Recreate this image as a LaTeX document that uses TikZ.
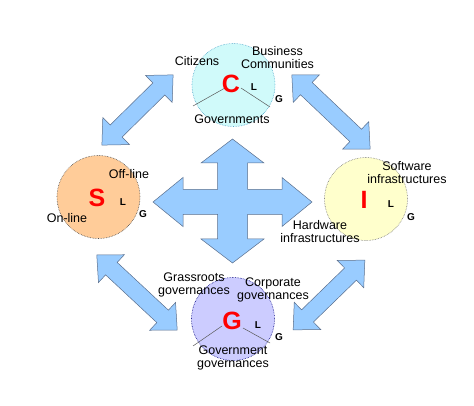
\documentclass[tikz,border=0pt]{standalone}
\usepackage{fontspec}
\setmainfont{Liberation Sans}
\usepackage{tikz}
\definecolor{ccyan}{RGB}{208, 250, 250}
\definecolor{cpeach}{RGB}{255, 204, 153}
\definecolor{cyellow}{RGB}{255, 255, 204}
\definecolor{clav}{RGB}{204, 204, 255}
\definecolor{carrow}{RGB}{153, 204, 255}
\definecolor{cedge}{RGB}{90, 110, 140}
\usetikzlibrary{positioning}
\usetikzlibrary{calc}

% double block arrow: centre x, centre y, angle, half length
\newcommand{\dblarrow}[4]{%
\begin{scope}[shift={(#1pt, -#2pt)}, rotate=#3]
\draw [arrowbox] (-#4pt, 0pt) -- (-#4pt+20pt, 19pt) -- (-#4pt+20pt, 8.5pt) -- (#4pt-20pt, 8.5pt) -- (#4pt-20pt, 19pt) -- (#4pt, 0pt) -- (#4pt-20pt, -19pt) -- (#4pt-20pt, -8.5pt) -- (-#4pt+20pt, -8.5pt) -- (-#4pt+20pt, -19pt) -- cycle;
\end{scope}}

\begin{document}
\begin{tikzpicture}[
  every node/.style={inner sep=0pt},
  disc/.style={circle, minimum size=83pt, densely dotted, line width=0.6pt},
  arrowbox/.style={fill=carrow, draw=cedge, line width=0.5pt, line join=miter},
  lbl/.style={font=\fontsize{12.5}{13}\selectfont, align=center},
  big/.style={font=\bfseries\fontsize{25}{25}\selectfont, text=red},
  small/.style={font=\bfseries\fontsize{10}{10}\selectfont},
  sepline/.style={draw=black!65, line width=0.5pt}]
\useasboundingbox (0pt, 0pt) rectangle (474pt, -406pt);

% the four circles
\node (C) [disc, fill=ccyan, draw=cyan!60!gray] at (233.5pt, -85pt) {};
\node (S) [disc, fill=cpeach, draw=black!70] at (98.5pt, -197pt) {};
\node (I) [disc, fill=cyellow, draw=black!55] at (366pt, -199pt) {};
\node (G) [disc, fill=clav, draw=black!50!blue] at (233pt, -319pt) {};

% arrows between them
\dblarrow{137.5}{110}{44.6}{50}
\dblarrow{331}{112}{-43.5}{54}
\dblarrow{137}{292.5}{-43}{55}
\dblarrow{329}{295}{44.2}{50}

% centre cross
\draw [arrowbox] (232.5pt, -139pt) -- (264pt, -163pt) -- (247.5pt, -163pt) -- (247.5pt, -189.5pt) -- (282pt, -189.5pt) -- (282pt, -177.5pt) -- (312pt, -202pt) -- (282pt, -226.5pt) -- (282pt, -214.5pt) -- (247.5pt, -214.5pt) -- (247.5pt, -239pt) -- (264pt, -239pt) -- (232.5pt, -263pt) -- (201pt, -239pt) -- (217.5pt, -239pt) -- (217.5pt, -214.5pt) -- (183pt, -214.5pt) -- (183pt, -226.5pt) -- (153pt, -202pt) -- (183pt, -177.5pt) -- (183pt, -189.5pt) -- (217.5pt, -189.5pt) -- (217.5pt, -163pt) -- (201pt, -163pt) -- cycle;

% C circle
\coordinate (c1) at (225pt, -88pt);
\coordinate (c2) at (193pt, -106pt);
\coordinate (c3) at (241pt, -88pt);
\coordinate (c4) at (270pt, -107pt);
\draw [sepline] (c1) -- (c2);
\draw [sepline] (c3) -- (c4);
\node (cl) [big] at (231pt, -84pt) {C};
\node (cL) [small] at (254pt, -87pt) {L};
\node (cG) [small] at (279pt, -99pt) {G};
\node (cit) [lbl] at (197pt, -61pt) {Citizens};
\node (bus) [lbl] at (277.5pt, -58pt) {Business\\Communities};
\node (gov) [lbl] at (232pt, -119pt) {Governments};

% S circle
\node (sl) [big] at (97pt, -198pt) {S};
\node (sL) [small] at (123pt, -202pt) {L};
\node (sG) [small] at (143pt, -214pt) {G};
\node (off) [lbl] at (129pt, -174pt) {Off-line};
\node (on) [lbl] at (67pt, -218pt) {On-line};

% I circle
\node (il) [big] at (364pt, -200pt) {I};
\node (iL) [small] at (391pt, -204pt) {L};
\node (iG) [small] at (411pt, -217pt) {G};
\node (soft) [lbl] at (407pt, -173pt) {Software\\infrastructures};
\node (hard) [lbl] at (320pt, -232pt) {Hardware\\infrastructures};

% G circle
\coordinate (g1) at (222pt, -326pt);
\coordinate (g2) at (193pt, -346pt);
\coordinate (g3) at (243pt, -328pt);
\coordinate (g4) at (270pt, -343pt);
\draw [sepline] (g1) -- (g2);
\draw [sepline] (g3) -- (g4);
\node (gl) [big] at (232pt, -321pt) {G};
\node (gL) [small] at (258pt, -325pt) {L};
\node (gG) [small] at (279pt, -337pt) {G};
\node (grass) [lbl] at (194pt, -284.5pt) {Grassroots\\governances};
\node (corp) [lbl] at (273pt, -290pt) {Corporate\\governances};
\node (govg) [lbl] at (233pt, -357.5pt) {Government\\governances};
\end{tikzpicture}
\end{document}
